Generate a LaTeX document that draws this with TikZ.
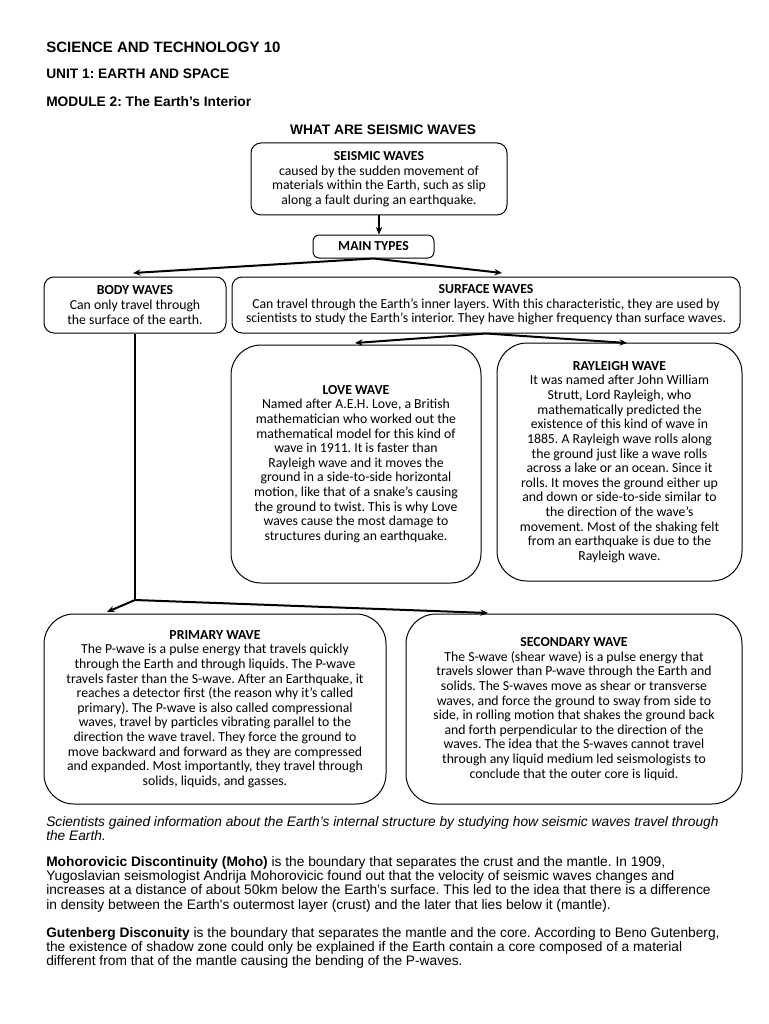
\documentclass[tikz,border=0pt]{standalone}
\usepackage{fontspec}
\setmainfont{Liberation Sans}
\newfontfamily\boxfont{Carlito}
\usetikzlibrary{arrows.meta,calc}
\frenchspacing

\tikzset{
	wavebox/.style={draw, line width=0.8pt, rounded corners=8pt, align=center, inner sep=0pt,
		font=\boxfont\fontsize{11}{11.7}\selectfont},
	roundbox/.style={wavebox, rounded corners=24pt},
	linkline/.style={line width=1.6pt},
	linkarrow/.style={linkline, -{Stealth[length=6pt,width=5pt]}},
	headline/.style={anchor=west, inner sep=0pt, font=\bfseries\fontsize{11}{13}\selectfont},
	notes/.style={anchor=north west, align=left, inner sep=0pt, font=\fontsize{11}{11.5}\selectfont}
}
\newcommand{\boxtitle}[1]{{\bfseries\fontsize{11}{11.7}\selectfont #1}}

\begin{document}
\begin{tikzpicture}[x=0.8pt, y=-0.8pt]
			%%%%% START %%%%%
			\useasboundingbox[fill=white] (0, 0) rectangle (768, 1024);
			
			\node[headline, font=\bfseries\fontsize{12}{14}\selectfont] (course) at (46, 47) {SCIENCE AND TECHNOLOGY 10};
			\node[headline] (unit) at (46, 74) {UNIT 1: EARTH AND SPACE};
			\node[headline] (module) at (46, 102) {MODULE 2: The Earth’s Interior};
			\node[headline, anchor=center] (question) at (383, 130) {WHAT ARE SEISMIC WAVES};
			
			%% boxes
			\node[wavebox, minimum width=204.8pt, minimum height=57.6pt] (seismic) at (379, 179)
				{\boxtitle{SEISMIC WAVES}\\caused by the sudden movement of\\materials within the Earth, such as slip\\along a fault during an earthquake.};
			\node[wavebox, rounded corners=5pt, minimum width=96.8pt, minimum height=18.4pt] (maintypes) at (373.5, 246.5)
				{\boxtitle{MAIN TYPES}};
			
			\node[wavebox, minimum width=145.6pt, minimum height=44.8pt] (body) at (135, 305)
				{\boxtitle{BODY WAVES}\\Can only travel through\\the surface of the earth.};
			\node[wavebox, minimum width=406.4pt, minimum height=44.8pt] (surface) at (486, 305)
				{\boxtitle{SURFACE WAVES}\\Can travel through the Earth’s inner layers. With this characteristic, they are used by\\scientists to study the Earth’s interior. They have higher frequency than surface waves.};
			
			\node[roundbox, minimum width=200pt, minimum height=190.4pt] (love) at (356, 464)
				{\boxtitle{LOVE WAVE}\\Named after A.E.H. Love, a British\\mathematician who worked out the\\mathematical model for this kind of\\wave in 1911. It is faster than\\Rayleigh wave and it moves the\\ground in a side-to-side horizontal\\motion, like that of a snake’s causing\\the ground to twist. This is why Love\\waves cause the most damage to\\structures during an earthquake.};
			\node[roundbox, minimum width=196pt, minimum height=190.4pt] (rayleigh) at (619.5, 462)
				{\boxtitle{RAYLEIGH WAVE}\\It was named after John William\\Strutt, Lord Rayleigh, who\\mathematically predicted the\\existence of this kind of wave in\\1885. A Rayleigh wave rolls along\\the ground just like a wave rolls\\across a lake or an ocean. Since it\\rolls. It moves the ground either up\\and down or side-to-side similar to\\the direction of the wave’s\\movement. Most of the shaking felt\\from an earthquake is due to the\\Rayleigh wave.};
			
			\node[roundbox, minimum width=273.6pt, minimum height=152pt] (primary) at (215, 709)
				{\boxtitle{PRIMARY WAVE}\\The P-wave is a pulse energy that travels quickly\\through the Earth and through liquids. The P-wave\\travels faster than the S-wave. After an Earthquake, it\\reaches a detector first (the reason why it’s called\\primary). The P-wave is also called compressional\\waves, travel by particles vibrating parallel to the\\direction the wave travel. They force the ground to\\move backward and forward as they are compressed\\and expanded. Most importantly, they travel through\\solids, liquids, and gasses.};
			\node[roundbox, minimum width=268.8pt, minimum height=152pt] (secondary) at (574, 709)
				{\boxtitle{SECONDARY WAVE}\\The S-wave (shear wave) is a pulse energy that\\travels slower than P-wave through the Earth and\\solids. The S-waves move as shear or transverse\\waves, and force the ground to sway from side to\\side, in rolling motion that shakes the ground back\\and forth perpendicular to the direction of the\\waves. The idea that the S-waves cannot travel\\through any liquid medium led seismologists to\\conclude that the outer core is liquid.};
			
			%% arrow ends
			\coordinate (bodytip) at (133, 273);
			\coordinate (surfacetip) at (502, 273);
			\coordinate (lovetip) at (355, 343);
			\coordinate (rayleightip) at (627, 343);
			\coordinate (bodyfork) at (135, 600);
			\coordinate (primarytip) at (107, 612);
			\coordinate (secondarytip) at (488, 613);
			
			\draw[linkarrow] (seismic.south) -- (seismic.south |- maintypes.north);
			\draw[linkarrow] (maintypes.south) -- (bodytip);
			\draw[linkarrow] (maintypes.south) -- (surfacetip);
			\draw[linkarrow] (surface.south) -- (lovetip);
			\draw[linkarrow] (surface.south) -- (rayleightip);
			\draw[linkline] (body.south) -- (bodyfork);
			\draw[linkarrow] (bodyfork) -- (primarytip);
			\draw[linkarrow] (bodyfork) -- (secondarytip);
			
			%% notes below
			\node[notes, font=\itshape\fontsize{11}{11.5}\selectfont] (summary) at (46, 816)
				{Scientists gained information about the Earth’s internal structure by studying how seismic waves travel through\\the Earth.};
			\node[notes] (moho) at (46, 856)
				{\textbf{Mohorovicic Discontinuity (Moho)} is the boundary that separates the crust and the mantle. In 1909,\\Yugoslavian seismologist Andrija Mohorovicic found out that the velocity of seismic waves changes and\\increases at a distance of about 50km below the Earth’s surface. This led to the idea that there is a difference\\in density between the Earth’s outermost layer (crust) and the later that lies below it (mantle).};
			\node[notes] (gutenberg) at (46, 927)
				{\textbf{Gutenberg Disconuity} is the boundary that separates the mantle and the core. According to Beno Gutenberg,\\the existence of shadow zone could only be explained if the Earth contain a core composed of a material\\different from that of the mantle causing the bending of the P-waves.};
			%%%%% END %%%%%
\end{tikzpicture}
\end{document}
